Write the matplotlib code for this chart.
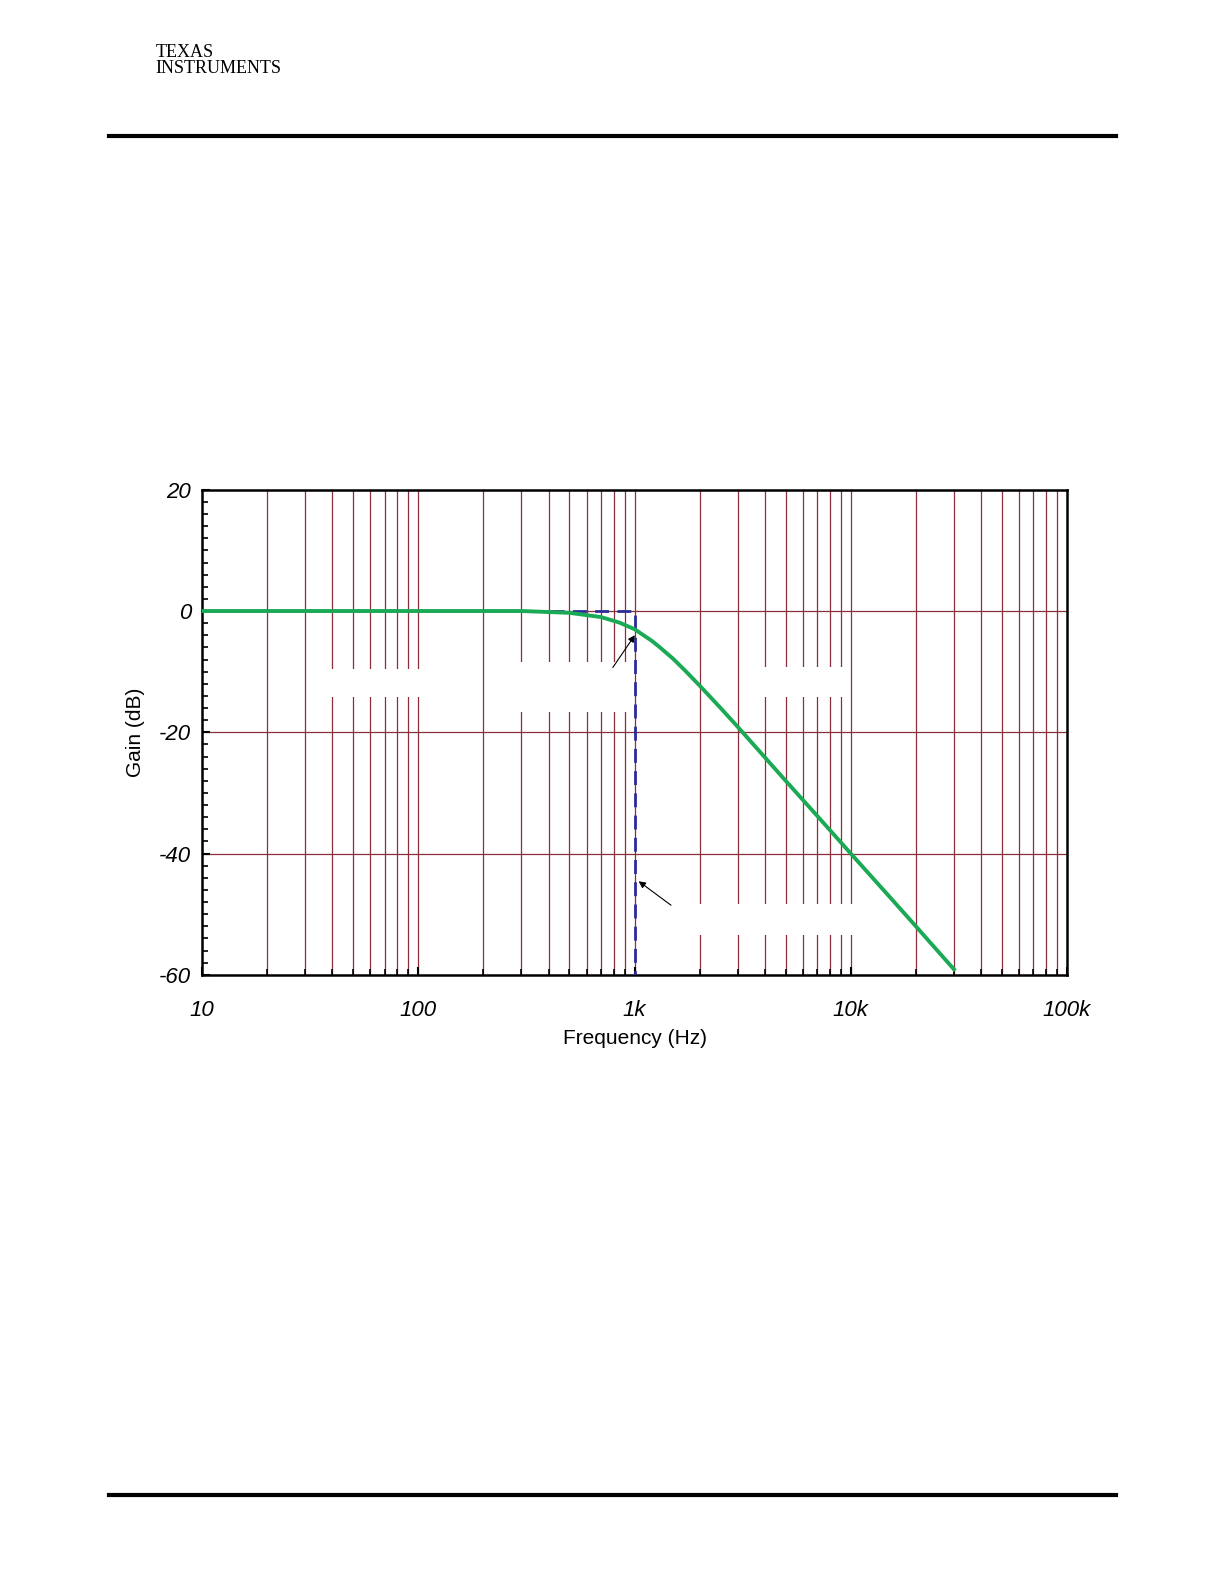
import matplotlib
matplotlib.use("Agg")
import matplotlib.pyplot as plt
from matplotlib.lines import Line2D
from matplotlib.patches import Rectangle
import numpy as np

freq = [10, 100, 300, 500, 700, 850, 1000, 1200, 1300, 1500, 1700, 2000, 2500, 3000, 5000, 7000, 10000, 15000, 20000, 30000]
gain = [0, 0, 0, -0.3, -1.0, -1.9, -3.0, -4.9, -5.9, -7.8, -9.7, -12.3, -16.0, -19.1, -28.0, -33.8, -40.0, -47.0, -52.0, -59.1]
ideal_freq = [320, 1000, 1000]
ideal_gain = [0, 0, -60]
xticks = [10, 100, 1000, 10000, 100000]
xlabels = ["10", "100", "1k", "10k", "100k"]
yticks = [-60, -40, -20, 0, 20]
# erased label areas (freq0, freq1, dB0, dB1)
boxes = [(36, 107, -9.5, -14.1), (266, 918, -8.4, -16.7), (3900, 9800, -9.2, -14.2), (1570, 11500, -48.4, -53.5)]

plt.rcParams['font.family'] = ['Liberation Sans', 'DejaVu Sans']
fig = plt.figure(figsize=(12.25, 15.85), dpi=100)
ax = fig.add_axes([0.165, 0.385, 0.706, 0.306])
ax.set_xscale('log')
ax.set_xlim(10, 100000)
ax.set_ylim(-60, 20)
gc = '#8a2d3c'
for d in [10, 100, 1000, 10000]:
    for m in range(1, 10):
        f = d * m
        if f > 10:
            ax.axvline(f, color=gc, lw=0.9, zorder=1)
for y in [-40, -20, 0]:
    ax.axhline(y, color=gc, lw=0.9, zorder=1)
for f0, f1, y0, y1 in boxes:
    ax.add_patch(Rectangle((f0, y1), f1 - f0, y0 - y1, facecolor='white', edgecolor='none', zorder=2))
ax.plot(freq, gain, color='#1aaa55', lw=2.8, zorder=4)
ax.plot(ideal_freq, ideal_gain, color='#2b2b9a', lw=2, ls=(0, (5, 3)), zorder=3)
ax.annotate('', xy=(1020, -3.6), xytext=(780, -9.7),
            arrowprops=dict(arrowstyle='-|>', color='black', lw=0.8, mutation_scale=10), zorder=5)
ax.annotate('', xy=(1020, -44.3), xytext=(1510, -48.8),
            arrowprops=dict(arrowstyle='-|>', color='black', lw=0.8, mutation_scale=10), zorder=5)
ax.set_xticks(xticks)
ax.set_xticklabels(xlabels, fontsize=16, style='italic')
ax.xaxis.set_minor_locator(matplotlib.ticker.LogLocator(subs=np.arange(2, 10)))
ax.xaxis.set_minor_formatter(matplotlib.ticker.NullFormatter())
ax.set_yticks(yticks)
ax.set_yticklabels([str(v) for v in yticks], fontsize=16, style='italic')
ax.yaxis.set_minor_locator(matplotlib.ticker.MultipleLocator(2))
ax.tick_params(which='major', length=6, width=1.5, direction='in')
ax.tick_params(axis='x', which='major', pad=18)
ax.tick_params(axis='y', which='major', pad=8)
ax.tick_params(which='minor', length=4, width=1.2, direction='in')
ax.set_xlabel('Frequency (Hz)', fontsize=15, labelpad=6)
ax.set_ylabel('Gain (dB)', fontsize=15, labelpad=10)
for s in ax.spines.values():
    s.set_linewidth(1.8)

fig.text(0.127, 0.962, 'TEXAS\nINSTRUMENTS', fontsize=13, family='Liberation Serif',
         va='center', linespacing=0.95)
fig.add_artist(Line2D([0.089, 0.911], [0.914, 0.914], color='black', lw=3))
fig.add_artist(Line2D([0.089, 0.911], [0.057, 0.057], color='black', lw=3))
fig.savefig('out.png', dpi=100)
